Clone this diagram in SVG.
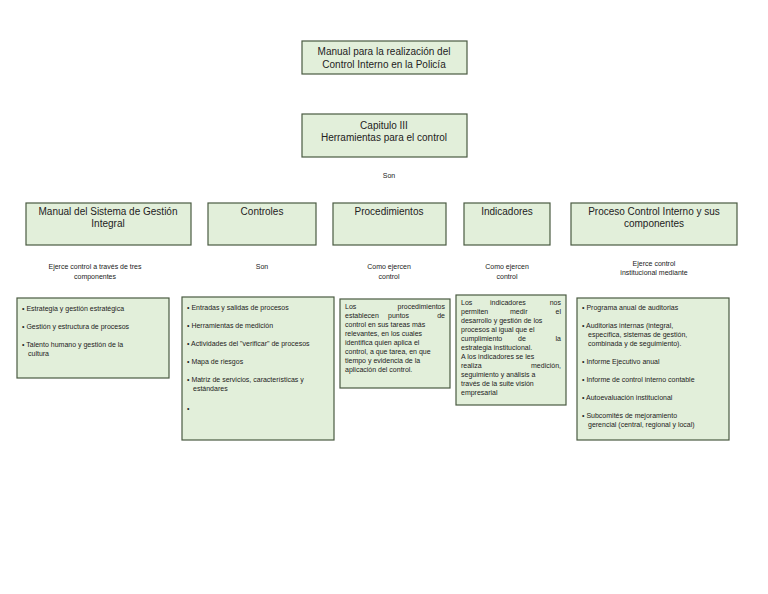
<svg xmlns="http://www.w3.org/2000/svg" width="768" height="594" viewBox="0 0 768 594">
<style>
.b{fill:#e2efda;stroke:#4a5a42;stroke-width:1.2}
.t{font-family:"Liberation Sans",Arial,sans-serif;font-size:10px;fill:#222;text-anchor:middle}
.s{font-family:"Liberation Sans",Arial,sans-serif;font-size:7px;fill:#222}
.c{text-anchor:middle}
.r{text-anchor:end}
</style>
<rect width="768" height="594" fill="#fff"/>
<g id="n-manual"><rect class="b" x="302" y="41" width="165" height="33"/><text class="t" x="384" y="55">Manual para la realización del</text><text class="t" x="384" y="68">Control Interno en la Policía</text></g>
<g id="n-cap"><rect class="b" x="302" y="114" width="165" height="43"/><text class="t" x="384" y="129">Capitulo III</text><text class="t" x="384" y="141">Herramientas para el control</text></g>
<g id="lbl-son"><text class="s c" x="389" y="178">Son</text></g>
<g id="n-msg"><rect class="b" x="26" y="203" width="165" height="42"/><text class="t" x="108" y="215" font-size="9">Manual del Sistema de Gestión</text><text class="t" x="108" y="227" font-size="9">Integral</text></g>
<g id="n-ctrl"><rect class="b" x="208" y="203" width="108" height="42"/><text class="t" x="262" y="215" font-size="9">Controles</text></g>
<g id="n-proc"><rect class="b" x="333" y="203" width="113" height="42"/><text class="t" x="389" y="215" font-size="9">Procedimientos</text></g>
<g id="n-ind"><rect class="b" x="464" y="203" width="86" height="42"/><text class="t" x="507" y="215" font-size="9">Indicadores</text></g>
<g id="n-pci"><rect class="b" x="571" y="203" width="166" height="42"/><text class="t" x="654" y="215" font-size="9">Proceso Control Interno y sus</text><text class="t" x="654" y="227" font-size="9">componentes</text></g>
<g id="labels">
<text class="s c" x="95" y="269">Ejerce control a través de tres</text><text class="s c" x="95" y="279">componentes</text>
<text class="s c" x="262" y="269">Son</text>
<text class="s c" x="389" y="269">Como ejercen</text><text class="s c" x="389" y="279">control</text>
<text class="s c" x="507" y="269">Como ejercen</text><text class="s c" x="507" y="279">control</text>
<text class="s c" x="654" y="266">Ejerce control</text><text class="s c" x="654" y="275">institucional mediante</text>
</g>
<g id="n-b1"><rect class="b" x="17" y="298" width="152" height="80"/>
<text class="s" x="22" y="311">• Estrategia y gestión estratégica</text>
<text class="s" x="22" y="329">• Gestión y estructura de procesos</text>
<text class="s" x="22" y="347">• Talento humano y gestión de la</text><text class="s" x="28" y="356">cultura</text></g>
<g id="n-b2"><rect class="b" x="182" y="297" width="152" height="143"/>
<text class="s" x="187" y="310">• Entradas y salidas de procesos</text>
<text class="s" x="187" y="328">• Herramientas de medición</text>
<text class="s" x="187" y="346">• Actividades del "verificar" de procesos</text>
<text class="s" x="187" y="364">• Mapa de riesgos</text>
<text class="s" x="187" y="382">• Matriz de servicios, características y</text><text class="s" x="193" y="391">estándares</text>
<text class="s" x="187" y="411">•</text></g>
<g id="n-b3"><rect class="b" x="340" y="299" width="110" height="89"/>
<g class="s">
<text x="345" y="309">Los</text><text class="r" x="445" y="309">procedimientos</text>
<text x="345" y="318">establecen</text><text x="388" y="318">puntos</text><text class="r" x="445" y="318">de</text>
<text x="345" y="327">control en sus tareas más</text>
<text x="345" y="336">relevantes, en los cuales</text>
<text x="345" y="345">identifica quien aplica el</text>
<text x="345" y="354">control, a que tarea, en que</text>
<text x="345" y="363">tiempo y evidencia de la</text>
<text x="345" y="372">aplicación del control.</text></g></g>
<g id="n-b4"><rect class="b" x="456" y="295" width="110" height="110"/>
<g class="s">
<text x="461" y="305">Los</text><text x="490" y="305">indicadores</text><text class="r" x="561" y="305">nos</text>
<text x="461" y="314">permiten</text><text x="510" y="314">medir</text><text class="r" x="561" y="314">el</text>
<text x="461" y="323">desarrollo y gestión de los</text>
<text x="461" y="332">procesos al igual que el</text>
<text x="461" y="341">cumplimiento</text><text x="518" y="341">de</text><text class="r" x="561" y="341">la</text>
<text x="461" y="350">estrategia institucional.</text>
<text x="461" y="359">A los indicadores se les</text>
<text x="461" y="368">realiza</text><text class="r" x="561" y="368">medición,</text>
<text x="461" y="377">seguimiento y análisis a</text>
<text x="461" y="386">través de la suite visión</text>
<text x="461" y="395">empresarial</text></g></g>
<g id="n-b5"><rect class="b" x="577" y="298" width="152" height="142"/>
<text class="s" x="582" y="310">• Programa anual de auditorias</text>
<text class="s" x="582" y="328">• Auditorias internas (integral,</text><text class="s" x="588" y="337">específica, sistemas de gestión,</text><text class="s" x="588" y="346">combinada y de seguimiento).</text>
<text class="s" x="582" y="364">• Informe Ejecutivo anual</text>
<text class="s" x="582" y="382">• Informe de control interno contable</text>
<text class="s" x="582" y="400">• Autoevaluación institucional</text>
<text class="s" x="582" y="418">• Subcomités de mejoramiento</text><text class="s" x="588" y="427">gerencial (central, regional y local)</text></g>
<g id="connectors"></g>
</svg>
